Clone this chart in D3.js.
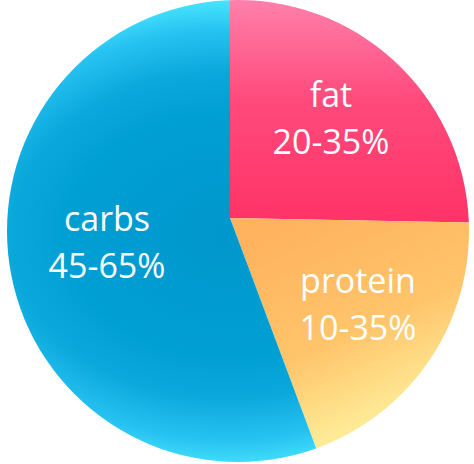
<!DOCTYPE html>
<html>
<head>
<meta charset="utf-8">
<script src="https://cdn.jsdelivr.net/npm/d3@7"></script>
<style>
  html, body { margin: 0; padding: 0; background: #fff; }
  svg { display: block; }
</style>
</head>
<body>
<svg id="chart" width="474" height="464"></svg>
<script>
// data (share of the circle per slice)
const names = ['fat', 'protein', 'carbs'];
const shares = [25.3, 19.0, 55.7];
const ranges = ['20-35%', '10-35%', '45-65%'];

// layout
const width = 474, height = 464;
const vertex = { x: 230, y: 218 };          // where the wedges meet
const disc = { x: 238, y: 231, r: 231 };     // outline of the pie
const labelPos = {
    fat: { x: 331, y: 107 },
    protein: { x: 358, y: 293 },
    carbs: { x: 107, y: 231 }
};
const lineGap = 47;

const svg = d3.select('#chart');
const defs = svg.append('defs');

// gradients live in the wedge group's space, which is moved to the vertex
const vx = x => x - vertex.x;
const vy = y => y - vertex.y;

defs.append('clipPath').attr('id', 'disc')
    .append('circle')
    .attr('cx', disc.x).attr('cy', disc.y).attr('r', disc.r);

const fatGrad = defs.append('linearGradient')
    .attr('id', 'grad-fat')
    .attr('gradientUnits', 'userSpaceOnUse')
    .attr('x1', 0).attr('y1', vy(0)).attr('x2', 0).attr('y2', vy(220));
fatGrad.append('stop').attr('offset', 0).attr('stop-color', '#ff80ab');
fatGrad.append('stop').attr('offset', 0.45).attr('stop-color', '#ff4a7c');
fatGrad.append('stop').attr('offset', 1).attr('stop-color', '#ff3367');

const proGrad = defs.append('linearGradient')
    .attr('id', 'grad-protein')
    .attr('gradientUnits', 'userSpaceOnUse')
    .attr('x1', vx(290)).attr('y1', vy(230)).attr('x2', vx(390)).attr('y2', vy(450));
proGrad.append('stop').attr('offset', 0).attr('stop-color', '#ffb35e');
proGrad.append('stop').attr('offset', 0.5).attr('stop-color', '#ffc56b');
proGrad.append('stop').attr('offset', 1).attr('stop-color', '#fffaa8');

const carbGrad = defs.append('radialGradient')
    .attr('id', 'grad-carbs')
    .attr('gradientUnits', 'userSpaceOnUse')
    .attr('cx', 0).attr('cy', 0).attr('r', 1)
    .attr('gradientTransform', `translate(${vx(228)},${vy(235)}) scale(320,238)`);
carbGrad.append('stop').attr('offset', 0).attr('stop-color', '#0097cc');
carbGrad.append('stop').attr('offset', 0.5).attr('stop-color', '#009fd3');
carbGrad.append('stop').attr('offset', 0.68).attr('stop-color', '#0aa7db');
carbGrad.append('stop').attr('offset', 0.86).attr('stop-color', '#26c2f1');
carbGrad.append('stop').attr('offset', 1).attr('stop-color', '#4ae8ff');

const pie = d3.pie().sort(null).value(d => d.share);
const arc = d3.arc().innerRadius(0).outerRadius(420);

const rows = names.map((n, i) => ({ name: n, share: shares[i], range: ranges[i] }));

svg.append('g')
    .attr('clip-path', 'url(#disc)')
  .append('g')
    .attr('transform', `translate(${vertex.x},${vertex.y})`)
  .selectAll('path')
  .data(pie(rows))
  .join('path')
    .attr('d', arc)
    .attr('fill', d => `url(#grad-${d.data.name})`);

const labels = svg.append('g')
    .attr('font-family', '"Open Sans", sans-serif')
    .attr('font-size', 34)
    .attr('fill', '#fff')
    .attr('text-anchor', 'middle')
  .selectAll('text')
  .data(rows)
  .join('text')
    .attr('x', d => labelPos[d.name].x)
    .attr('y', d => labelPos[d.name].y);

labels.append('tspan').text(d => d.name);
labels.append('tspan')
    .attr('x', d => labelPos[d.name].x)
    .attr('dy', lineGap)
    .text(d => d.range);
</script>
</body>
</html>
